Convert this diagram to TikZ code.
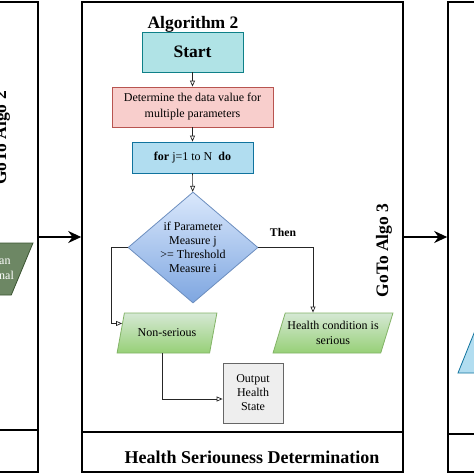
\documentclass[tikz,border=0pt]{standalone}
\usepackage{fontspec}
\setmainfont{Liberation Serif}
\usetikzlibrary{shapes.geometric}
\usetikzlibrary{arrows.meta}
\usetikzlibrary{calc}

\definecolor{startfill}{HTML}{B0E3E6}
\definecolor{startline}{HTML}{0E8088}
\definecolor{detfill}{HTML}{F8CECC}
\definecolor{detline}{HTML}{B85450}
\definecolor{loopfill}{HTML}{B1DDF0}
\definecolor{loopline}{HTML}{10739E}
\definecolor{dectop}{HTML}{DAE8FC}
\definecolor{decbot}{HTML}{7EA6E0}
\definecolor{decline}{HTML}{6C8EBF}
\definecolor{grntop}{HTML}{D5E8D4}
\definecolor{grnbot}{HTML}{97D077}
\definecolor{grnline}{HTML}{82B366}
\definecolor{outfill}{HTML}{EEEEEE}
\definecolor{outgray}{HTML}{666666}
\definecolor{dkgrn}{HTML}{6D8764}
\definecolor{dkgrnline}{HTML}{3A5431}

\newcommand{\headfont}{\fontsize{17.5}{20}\selectfont\bfseries}
\newcommand{\bodyfont}{\fontsize{12}{14}\selectfont}

\begin{document}
\begin{tikzpicture}[x=1pt, y=-1pt,
    panel/.style={draw, line width=1.6pt, minimum height=470pt, inner sep=0pt},
    box/.style={draw, line width=0.8pt, inner sep=2pt, align=center, font=\bodyfont},
    para/.style={box, trapezium, trapezium stretches=true, trapezium left angle=66, trapezium right angle=114, minimum height=40pt},
    flow/.style={-{Triangle[open, length=6pt, width=5pt]}, line width=0.7pt, draw=black!85},
    linkarrow/.style={-{Stealth[length=13pt, width=12pt]}, line width=1.6pt}]
    \clip (0,0) rectangle (474,474);
    % panels
    \node[panel, minimum width=58pt] (lpanel) at (9,237) {};
    \node[panel, minimum width=321pt] (mpanel) at (242.5,237) {};
    \node[panel, minimum width=52pt] (rpanel) at (474,237) {};
    \draw[line width=1.6pt] (lpanel.west |- 0,430) -- (lpanel.east |- 0,430);
    \draw[line width=1.6pt] (mpanel.west |- 0,432) -- (mpanel.east |- 0,432);
    \draw[line width=1.6pt] (rpanel.west |- 0,434) -- (rpanel.east |- 0,434);
    \draw[linkarrow] (lpanel.east) -- (mpanel.west);
    \draw[linkarrow] (mpanel.east) -- (rpanel.west);
    % left panel (cut off)
    \node[rotate=90, anchor=base, font=\headfont] (goto2) at (6,138) {GoTo Algo 2};
    \node[trapezium, trapezium stretches=true, trapezium left angle=69, trapezium right angle=111,
        minimum width=100pt, minimum height=52pt, fill=dkgrn, draw=dkgrnline, line width=0.8pt] (lpara) at (-17,269) {};
    \node[anchor=west, align=left, inner sep=0pt, text=white, font=\fontsize{12}{15}\selectfont] (lparatext) at (-1,269.5) {an\\nal};
    % right panel (cut off)
    \node[trapezium, trapezium stretches=true, trapezium left angle=76, trapezium right angle=104,
        minimum width=104pt, minimum height=43pt, fill=loopfill, draw=loopline, line width=0.8pt] (rpara) at (510,351.5) {};
    % middle panel: algorithm 2
    \node[anchor=base, font=\headfont] (algo) at (193,28) {Algorithm 2};
    \node[box, font=\headfont, fill=startfill, draw=startline, minimum width=101pt, minimum height=40pt] (start) at (192.5,52) {Start};
    \node[box, fill=detfill, draw=detline, minimum width=161pt, minimum height=40pt, font=\fontsize{12}{16}\selectfont] (determine) at (192.5,107) {Determine the data value for\\multiple parameters};
    \node[box, fill=loopfill, draw=loopline, minimum width=121pt, minimum height=31pt] (loop) at (192.5,157.5) {\textbf{for} j=1 to N~~\textbf{do}};
    \node[box, diamond, aspect=1.17, inner sep=0pt, minimum width=130pt, minimum height=111pt,
        top color=dectop, bottom color=decbot, draw=decline] (decision) at (193,247.5) {if Parameter\\Measure j\\>= Threshold\\Measure i};
    \node[para, minimum width=100pt, top color=grntop, bottom color=grnbot, draw=grnline] (nonserious) at (167,333) {Non-serious};
    \node[para, minimum width=120pt, top color=grntop, bottom color=grnbot, draw=grnline, font=\fontsize{12}{15}\selectfont] (serious) at (333,333) {Health condition is\\serious};
    \node[box, fill=outfill, draw=outgray, minimum width=60pt, minimum height=60pt] (output) at (253,393) {Output\\Health\\State};
    \node[anchor=base, font=\fontsize{11.7}{14}\selectfont\bfseries] (then) at (283,236) {Then};
    \node[rotate=90, anchor=base, font=\headfont] (goto3) at (388,250.5) {GoTo Algo 3};
    \node[anchor=base, font=\fontsize{18}{20}\selectfont\bfseries] (mtitle) at (252,463) {Health Seriouness Determination};
    % connectors
    \draw[flow] (start) -- (determine);
    \draw[flow] (determine) -- (loop);
    \draw[flow] (loop) -- (decision);
    \draw[flow] (decision.west) -- ++(-16,0) |- (nonserious.168);
    \draw[flow] (decision.east) -| ($(serious.north)+(-20,0)$);
    \draw[flow] ($(nonserious.south)+(-5,0)$) |- ($(output.west)+(0,6)$);
\end{tikzpicture}
\end{document}
